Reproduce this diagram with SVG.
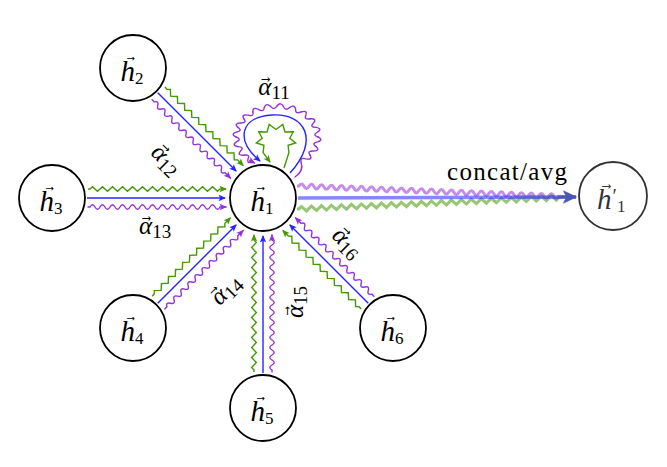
<svg xmlns="http://www.w3.org/2000/svg" xmlns:xlink="http://www.w3.org/1999/xlink" width="667" height="467" viewBox="0 0 667 467">
<style>
.node{fill:#fff;stroke:#000;stroke-width:1.8}
.lab{font-family:"Liberation Serif","DejaVu Sans",serif;font-size:29px;fill:#000}
.al{font-family:"Liberation Serif","DejaVu Sans",serif;font-size:25px;fill:#000}
.it{font-style:italic}
.sub{font-size:17px;font-style:normal}
.asub{font-size:19px;font-style:normal}
.pr{font-size:20px;font-style:normal}
.b{stroke:#2424ff;stroke-width:1.4;fill:none}
.g{stroke:#439a00;stroke-width:1.4;fill:none;stroke-linejoin:miter}
.p{stroke:#9530dc;stroke-width:1.4;fill:none;stroke-linecap:round}
.ob{stroke:#2424ff;stroke-width:3.5;fill:none}
.og{stroke:#439a00;stroke-width:3;fill:none}
.op{stroke:#9530dc;stroke-width:3;fill:none}
</style>
<defs>
<marker id="mb" viewBox="-8 -4 10 8" refX="0" refY="0" markerWidth="10" markerHeight="8" markerUnits="userSpaceOnUse" orient="auto" overflow="visible"><path d="M1,0 L-6.5,-3.2 L-4.8,0 L-6.5,3.2Z" fill="#2424ff"/></marker>
<marker id="mg" viewBox="-8 -4 10 8" refX="0" refY="0" markerWidth="10" markerHeight="8" markerUnits="userSpaceOnUse" orient="auto" overflow="visible"><path d="M1,0 L-6.5,-3.2 L-4.8,0 L-6.5,3.2Z" fill="#439a00"/></marker>
<marker id="mp" viewBox="-8 -4 10 8" refX="0" refY="0" markerWidth="10" markerHeight="8" markerUnits="userSpaceOnUse" orient="auto" overflow="visible"><path d="M1,0 L-6.5,-3.2 L-4.8,0 L-6.5,3.2Z" fill="#9530dc"/></marker>
<marker id="Mb" viewBox="-14 -7 16 14" refX="0" refY="0" markerWidth="16" markerHeight="14" markerUnits="userSpaceOnUse" orient="auto" overflow="visible"><path d="M1,0 L-13,-6.5 L-9.5,0 L-13,6.5Z" fill="#2424ff"/></marker>
<marker id="Mg" viewBox="-14 -7 16 14" refX="0" refY="0" markerWidth="16" markerHeight="14" markerUnits="userSpaceOnUse" orient="auto" overflow="visible"><path d="M1,0 L-13,-6.5 L-9.5,0 L-13,6.5Z" fill="#439a00"/></marker>
<marker id="Mp" viewBox="-14 -7 16 14" refX="0" refY="0" markerWidth="16" markerHeight="14" markerUnits="userSpaceOnUse" orient="auto" overflow="visible"><path d="M1,0 L-13,-6.5 L-9.5,0 L-13,6.5Z" fill="#9530dc"/></marker>
<path id="pw" vector-effect="non-scaling-stroke" d="M30,0 Q34.394,2.707 29.631,4.693 Q24.795,5.953 28.532,9.271"/>
</defs>

<g id="connectors">
  <g id="e2" transform="translate(133,68) rotate(45)">
    <path class="g" marker-end="url(#mg)" d="M36,-9 h3 l2.5,-2.3 5,4.6 5,-4.6 5,4.6 5,-4.6 5,4.6 5,-4.6 5,4.6 5,-4.6 5,4.6 5,-4.6 5,4.6 5,-4.6 5,4.6 5,-4.6 5,4.6 5,-4.6 5,4.6 5,-4.6 5,4.6 2.5,-2.3 H146.8"/>
    <path class="b" marker-end="url(#mb)" d="M35,0 H145.8"/>
    <path class="p" marker-end="url(#mp)" d="M36,9 h3 q2.5,-4.4 5,0 t5,0 5,0 5,0 5,0 5,0 5,0 5,0 5,0 5,0 5,0 5,0 5,0 5,0 5,0 5,0 5,0 5,0 5,0 5,0 H146.8"/>
  </g>
  <g id="e3" transform="translate(52,198)">
    <path class="g" marker-end="url(#mg)" d="M36,-9 h2 l2.5,-2.3 5,4.6 5,-4.6 5,4.6 5,-4.6 5,4.6 5,-4.6 5,4.6 5,-4.6 5,4.6 5,-4.6 5,4.6 5,-4.6 5,4.6 5,-4.6 5,4.6 5,-4.6 5,4.6 5,-4.6 5,4.6 5,-4.6 5,4.6 5,-4.6 5,4.6 5,-4.6 5,4.6 2.5,-2.3 H174"/>
    <path class="b" marker-end="url(#mb)" d="M35,0 H173"/>
    <path class="p" marker-end="url(#mp)" d="M36,9 h2 q2.5,-4.4 5,0 t5,0 5,0 5,0 5,0 5,0 5,0 5,0 5,0 5,0 5,0 5,0 5,0 5,0 5,0 5,0 5,0 5,0 5,0 5,0 5,0 5,0 5,0 5,0 5,0 5,0 H174"/>
  </g>
  <g id="e4" transform="translate(133,328) rotate(-45)">
    <path class="g" marker-end="url(#mg)" d="M36,-9 h3 l2.5,-2.3 5,4.6 5,-4.6 5,4.6 5,-4.6 5,4.6 5,-4.6 5,4.6 5,-4.6 5,4.6 5,-4.6 5,4.6 5,-4.6 5,4.6 5,-4.6 5,4.6 5,-4.6 5,4.6 5,-4.6 5,4.6 2.5,-2.3 H146.8"/>
    <path class="b" marker-end="url(#mb)" d="M35,0 H145.8"/>
    <path class="p" marker-end="url(#mp)" d="M36,9 h3 q2.5,-4.4 5,0 t5,0 5,0 5,0 5,0 5,0 5,0 5,0 5,0 5,0 5,0 5,0 5,0 5,0 5,0 5,0 5,0 5,0 5,0 5,0 H146.8"/>
  </g>
  <g id="e5" transform="translate(263,408) rotate(-90)">
    <path class="g" marker-end="url(#mg)" d="M36,-9 h2 l2.5,-2.3 5,4.6 5,-4.6 5,4.6 5,-4.6 5,4.6 5,-4.6 5,4.6 5,-4.6 5,4.6 5,-4.6 5,4.6 5,-4.6 5,4.6 5,-4.6 5,4.6 5,-4.6 5,4.6 5,-4.6 5,4.6 5,-4.6 5,4.6 5,-4.6 5,4.6 5,-4.6 5,4.6 2.5,-2.3 H173"/>
    <path class="b" marker-end="url(#mb)" d="M35,0 H172"/>
    <path class="p" marker-end="url(#mp)" d="M36,9 h2 q2.5,-4.4 5,0 t5,0 5,0 5,0 5,0 5,0 5,0 5,0 5,0 5,0 5,0 5,0 5,0 5,0 5,0 5,0 5,0 5,0 5,0 5,0 5,0 5,0 5,0 5,0 5,0 5,0 H173"/>
  </g>
  <g id="e6" transform="translate(393,328) rotate(-135)">
    <path class="g" marker-end="url(#mg)" d="M36,-9 h3 l2.5,-2.3 5,4.6 5,-4.6 5,4.6 5,-4.6 5,4.6 5,-4.6 5,4.6 5,-4.6 5,4.6 5,-4.6 5,4.6 5,-4.6 5,4.6 5,-4.6 5,4.6 5,-4.6 5,4.6 5,-4.6 5,4.6 2.5,-2.3 H146.8"/>
    <path class="b" marker-end="url(#mb)" d="M35,0 H145.8"/>
    <path class="p" marker-end="url(#mp)" d="M36,9 h3 q2.5,-4.4 5,0 t5,0 5,0 5,0 5,0 5,0 5,0 5,0 5,0 5,0 5,0 5,0 5,0 5,0 5,0 5,0 5,0 5,0 5,0 5,0 H146.8"/>
  </g>
  <g id="e1">
    <g class="p" transform="translate(277,137) scale(1.3667,1.0333)">
      <use xlink:href="#pw" transform="rotate(126)"/>
      <use xlink:href="#pw" transform="rotate(144)"/>
      <use xlink:href="#pw" transform="rotate(162)"/>
      <use xlink:href="#pw" transform="rotate(180)"/>
      <use xlink:href="#pw" transform="rotate(198)"/>
      <use xlink:href="#pw" transform="rotate(216)"/>
      <use xlink:href="#pw" transform="rotate(234)"/>
      <use xlink:href="#pw" transform="rotate(252)"/>
      <use xlink:href="#pw" transform="rotate(270)"/>
      <use xlink:href="#pw" transform="rotate(288)"/>
      <use xlink:href="#pw" transform="rotate(306)"/>
      <use xlink:href="#pw" transform="rotate(324)"/>
      <use xlink:href="#pw" transform="rotate(342)"/>
      <use xlink:href="#pw" transform="rotate(360)"/>
      <use xlink:href="#pw" transform="rotate(378)"/>
      <use xlink:href="#pw" transform="rotate(396)"/>
    </g>
    <path class="p" d="M301.1,162.1 Q304,171 295,177"/>
    <path class="p" marker-end="url(#mp)" d="M249.8,160.4 L254.5,163"/>
    <path class="b" marker-end="url(#mb)" d="M290,173 C320,140 305,113 272,115 C240,117 235,140 260,161"/>
    <path class="g" marker-end="url(#mg)" d="M284,168 L288.9,152.6 L288.1,145.3 L295.7,142.9 L289.8,138.2 L293.3,131.8 L285,132 L282.8,124.5 L276,129.5 L269.2,124.5 L267,132 L258.7,131.8 L262.2,138.2 L256.3,142.9 L263.9,145.3 L263.1,152.6 L270,162"/>
  </g>
  <g id="eout">
    <g opacity="0.55" transform="translate(297,186) rotate(2.26)">
      <path class="op" marker-end="url(#Mp)" d="M0,0 h2 q2.5,-4.4 5,0 t5,0 5,0 5,0 5,0 5,0 5,0 5,0 5,0 5,0 5,0 5,0 5,0 5,0 5,0 5,0 5,0 5,0 5,0 5,0 5,0 5,0 5,0 5,0 5,0 5,0 5,0 5,0 5,0 5,0 5,0 5,0 5,0 5,0 5,0 5,0 5,0 5,0 5,0 5,0 5,0 5,0 5,0 5,0 5,0 5,0 5,0 5,0 5,0 5,0 5,0 5,0 H279.2"/>
    </g>
    <g opacity="0.55" transform="translate(297,209) rotate(-2.46)">
      <path class="og" marker-end="url(#Mg)" d="M0,0 h2 l2.5,-2.3 5,4.6 5,-4.6 5,4.6 5,-4.6 5,4.6 5,-4.6 5,4.6 5,-4.6 5,4.6 5,-4.6 5,4.6 5,-4.6 5,4.6 5,-4.6 5,4.6 5,-4.6 5,4.6 5,-4.6 5,4.6 5,-4.6 5,4.6 5,-4.6 5,4.6 5,-4.6 5,4.6 5,-4.6 5,4.6 5,-4.6 5,4.6 5,-4.6 5,4.6 5,-4.6 5,4.6 5,-4.6 5,4.6 5,-4.6 5,4.6 5,-4.6 5,4.6 5,-4.6 5,4.6 5,-4.6 5,4.6 5,-4.6 5,4.6 5,-4.6 5,4.6 5,-4.6 5,4.6 5,-4.6 5,4.6 2.5,-2.3 H279.3"/>
    </g>
    <g opacity="0.55">
      <path class="ob" marker-end="url(#Mb)" d="M298,198 L576,197"/>
    </g>
  </g>
</g>

<g id="h1"><circle class="node" cx="263" cy="198" r="33"/><text class="lab" x="262" y="211" text-anchor="middle"><tspan class="it">h</tspan><tspan class="sub" dx="0 0" dy="-11 14">⃗1</tspan></text></g>
<g id="h2"><circle class="node" cx="133" cy="68" r="33"/><text class="lab" x="132" y="81" text-anchor="middle"><tspan class="it">h</tspan><tspan class="sub" dx="0 0" dy="-11 14">⃗2</tspan></text></g>
<g id="h3"><circle class="node" cx="52" cy="198" r="33"/><text class="lab" x="51" y="211" text-anchor="middle"><tspan class="it">h</tspan><tspan class="sub" dx="0 0" dy="-11 14">⃗3</tspan></text></g>
<g id="h4"><circle class="node" cx="133" cy="328" r="33"/><text class="lab" x="132" y="341" text-anchor="middle"><tspan class="it">h</tspan><tspan class="sub" dx="0 0" dy="-11 14">⃗4</tspan></text></g>
<g id="h5"><circle class="node" cx="263" cy="408" r="33"/><text class="lab" x="262" y="421" text-anchor="middle"><tspan class="it">h</tspan><tspan class="sub" dx="0 0" dy="-11 14">⃗5</tspan></text></g>
<g id="h6"><circle class="node" cx="393" cy="328" r="33"/><text class="lab" x="392" y="341" text-anchor="middle"><tspan class="it">h</tspan><tspan class="sub" dx="0 0" dy="-11 14">⃗6</tspan></text></g>
<g id="h1p" opacity="0.8"><circle class="node" cx="613" cy="196" r="34"/><text class="lab" x="597" y="209"><tspan class="it">h</tspan><tspan class="pr" dx="0 1" dy="-9 3">⃗′</tspan><tspan class="sub" dy="9">1</tspan></text></g>

<g id="labels">
  <text class="al" x="274" y="95" text-anchor="middle"><tspan class="it">α</tspan><tspan class="asub" dx="-1 1" dy="-3 7">⃗11</tspan></text>
  <text class="al" text-anchor="middle" transform="translate(161,165) rotate(45)"><tspan class="it">α</tspan><tspan class="asub" dx="-1 1" dy="-3 7">⃗12</tspan></text>
  <text class="al" x="139" y="234"><tspan class="it">α</tspan><tspan class="asub" dx="-1 1" dy="-3 7">⃗13</tspan></text>
  <text class="al" text-anchor="middle" transform="translate(231,295) rotate(-45)"><tspan class="it">α</tspan><tspan class="asub" dx="-1 1" dy="-3 7">⃗14</tspan></text>
  <text class="al" text-anchor="middle" transform="translate(303,302) rotate(-90)"><tspan class="it">α</tspan><tspan class="asub" dx="-1 1" dy="-3 7">⃗15</tspan></text>
  <text class="al" text-anchor="middle" transform="translate(342,248) rotate(45)"><tspan class="it">α</tspan><tspan class="asub" dx="-1 1" dy="-3 7">⃗16</tspan></text>
  <text class="al" x="447" y="180" font-size="24" textLength="120">concat/avg</text>
</g>
</svg>
